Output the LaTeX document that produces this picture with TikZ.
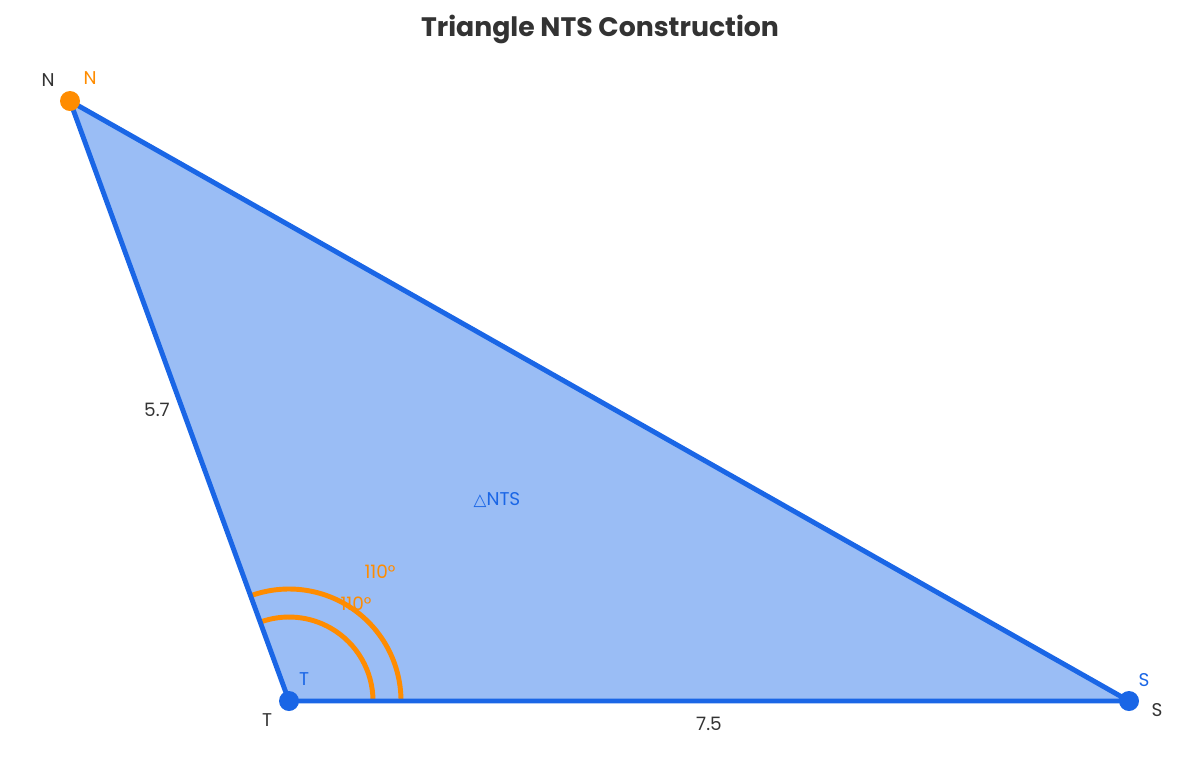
\documentclass[tikz,border=0pt]{standalone}
\usepackage{fontspec}
\setmainfont{Poppins}
\newfontfamily\symfont{DejaVu Sans}
\usetikzlibrary{positioning}
\definecolor{edgeblue}{HTML}{1A66E6}
\definecolor{fillblue}{HTML}{9ABDF5}
\definecolor{angorange}{HTML}{FF8C00}
\definecolor{txtgray}{HTML}{333333}

\begin{document}
\begin{tikzpicture}[
  side/.style={edgeblue, line width=2.8pt, line join=round},
  angarc/.style={angorange, line width=2.8pt},
  lbl/.style={font=\fontsize{10.5}{12}\selectfont, inner sep=1pt},
]
\useasboundingbox (0,0) rectangle (24,-15.26);
%title
\node[font=\fontsize{15.2}{18}\selectfont\bfseries, text=txtgray] (title) at (12,-0.58) {Triangle NTS Construction};
%vertices
\coordinate (N) at (1.40,-2.02);
\coordinate (T) at (5.78,-14.02);
\coordinate (S) at (22.58,-14.02);
%body
\fill[fillblue] (N) -- (T) -- (S) -- cycle;
%angle marks
\draw[angarc] ([shift={(0:1.68)}]T) arc (0:110:1.68);
\draw[angarc] ([shift={(0:2.24)}]T) arc (0:110:2.24);
%sides
\draw[side] (N) -- (T) -- (S) -- cycle;
%points
\fill[angorange] (N) circle (0.2);
\fill[edgeblue] (T) circle (0.2);
\fill[edgeblue] (S) circle (0.2);

%labels
\node[lbl, text=txtgray] (nlab) at (0.96,-1.6) {N};
\node[lbl, text=angorange] (nname) at (1.8,-1.56) {N};
\node[lbl, text=edgeblue] (tname) at (6.08,-13.58) {T};
\node[lbl, text=txtgray] (tlab) at (5.34,-14.4) {T};
\node[lbl, text=edgeblue] (sname) at (22.88,-13.6) {S};
\node[lbl, text=txtgray] (slab) at (23.14,-14.2) {S};
\node[lbl, text=txtgray] (nt) at (3.14,-8.2) {5.7};
\node[lbl, text=txtgray] (ts) at (14.18,-14.48) {7.5};
\node[lbl, text=edgeblue] (tri) at (9.94,-10.0) {{\symfont\fontsize{9.5}{12}\selectfont △}NTS};
\node[lbl, text=angorange] (ang1) at (7.6,-11.44) {110°};
\node[lbl, text=angorange] (ang2) at (7.12,-12.08) {110°};
\end{tikzpicture}
\end{document}
